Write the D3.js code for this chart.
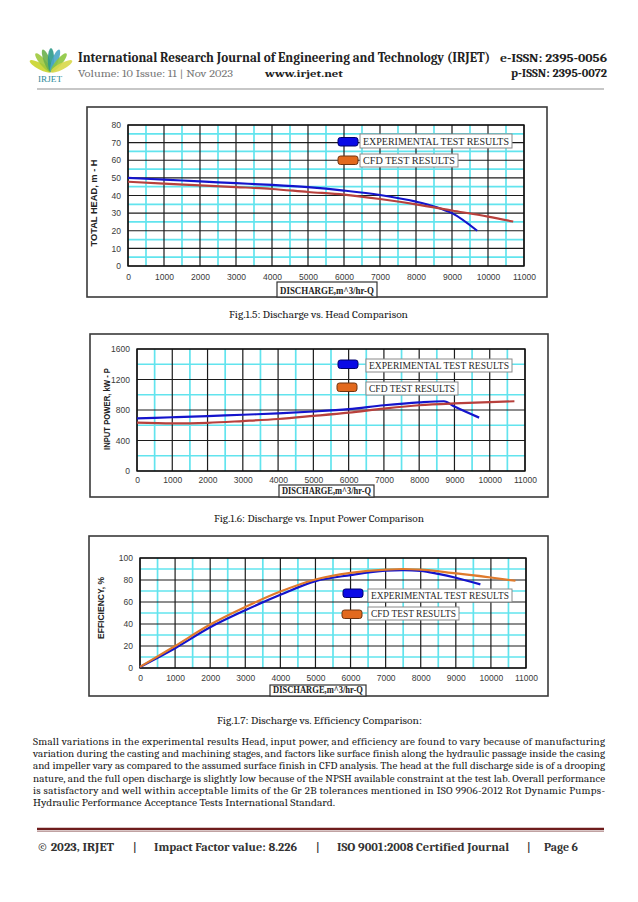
<!DOCTYPE html>
<html>
<head>
<meta charset="utf-8">
<script src="https://cdn.jsdelivr.net/npm/d3@7"></script>
<style>
  body { margin: 0; background: #fff; }
</style>
</head>
<body>
<div id="page"></div>
<script>
// discharge values (m^3/hr)
const headExpQ = [0, 1000, 2000, 3000, 4000, 5000, 6000, 7000, 8000, 8500, 9000, 9700];
const headExp = [50, 49, 48, 47, 46, 44.7, 42.8, 40.3, 36.5, 33.8, 30, 20];
const headCfdQ = [0, 1000, 2000, 3000, 4000, 5000, 6000, 7000, 8000, 9000, 10000, 10700];
const headCfd = [47.8, 46.7, 45.8, 44.8, 43.7, 42, 40.5, 38, 35, 31.5, 28, 25.2];

const powerExpQ = [0, 1000, 2000, 3000, 4000, 5000, 6000, 7000, 8000, 8700, 9000, 9700];
const powerExp = [690, 705, 720, 738, 755, 780, 812, 862, 900, 915, 845, 700];
const powerCfdQ = [0, 1000, 2000, 3000, 4000, 5000, 6000, 7000, 8000, 9000, 10000, 10700];
const powerCfd = [635, 625, 632, 655, 682, 722, 765, 818, 862, 886, 902, 915];

const effExpQ = [0, 1000, 2000, 3000, 4000, 5000, 6000, 7000, 7500, 8000, 8500, 9000, 9700];
const effExp = [1, 18, 37, 52.5, 66.5, 79, 84.5, 88.5, 89, 88.3, 85.5, 82, 76];
const effCfdQ = [0, 1000, 2000, 3000, 4000, 5000, 6000, 7000, 7500, 8000, 9000, 10000, 10700];
const effCfd = [1, 20, 39.5, 55.5, 69.5, 80.5, 86.5, 89.5, 90, 89.5, 86, 82.3, 79.3];

const xTicks = [0, 1000, 2000, 3000, 4000, 5000, 6000, 7000, 8000, 9000, 10000, 11000];
const xMinor = [500, 1500, 2500, 3500, 4500, 5500, 6500, 7500, 8500, 9500, 10500];
const headTicks = [0, 10, 20, 30, 40, 50, 60, 70, 80];
const headMinor = [5, 15, 25, 35, 45, 55, 65, 75];
const powerTicks = [0, 400, 800, 1200, 1600];
const powerMinor = [200, 600, 1000, 1400];
const effTicks = [0, 20, 40, 60, 80, 100];
const effMinor = [10, 30, 50, 70, 90];

const legendLabels = ["EXPERIMENTAL TEST RESULTS", "CFD TEST RESULTS"];

const paragraph = [
  "Small variations in the experimental results Head, input power, and efficiency are found to vary because of manufacturing",
  "variation during the casting and machining stages, and factors like surface finish along the hydraulic passage inside the casing",
  "and impeller vary as compared to the assumed surface finish in CFD analysis. The head at the full discharge side is of a drooping",
  "nature, and the full open discharge is slightly low because of the NPSH available constraint at the test lab. Overall performance",
  "is satisfactory and well within acceptable limits of the Gr 2B tolerances mentioned in ISO 9906-2012 Rot Dynamic Pumps-",
  "Hydraulic Performance Acceptance Tests International Standard."
];

const serif = "Cambria, 'DejaVu Serif Condensed', 'DejaVu Serif', serif";
const times = "'Liberation Serif', 'Times New Roman', serif";
const sans = "'Liberation Sans', Arial, sans-serif";

const svg = d3.select("#page").append("svg")
  .attr("width", 638).attr("height", 902)
  .style("display", "block");

// ---------- header ----------
const logo = svg.append("g").attr("transform", "translate(51,72)");
const leafCols = ["#c9d42a", "#9fc93c", "#6ab04c", "#2d9a8a", "#4aa6c8", "#8cc63f", "#d8d84a"];
[-62, -40, -20, 0, 20, 40, 62].forEach(function(a, i) {
  logo.append("ellipse")
    .attr("cx", 0).attr("cy", -12).attr("rx", 3.2).attr("ry", 12)
    .attr("fill", leafCols[i])
    .attr("opacity", 0.9)
    .attr("transform", "rotate(" + a + ") ");
});
svg.append("text").attr("x", 38).attr("y", 82).text("IRJET")
  .attr("font-family", times).attr("font-size", 8).attr("fill", "#2a8a9a")
  .attr("textLength", 24).attr("lengthAdjust", "spacingAndGlyphs");

function txt(s, x, y, size, opts) {
  opts = opts || {};
  const t = svg.append("text").attr("x", x).attr("y", y).text(s)
    .attr("font-family", opts.family || serif)
    .attr("font-size", size)
    .attr("font-weight", opts.weight || "normal")
    .attr("fill", opts.fill || "#1a1a1a");
  if (opts.len) t.attr("textLength", opts.len).attr("lengthAdjust", opts.adjust || "spacingAndGlyphs");
  if (opts.anchor) t.attr("text-anchor", opts.anchor);
  return t;
}

txt("International Research Journal of Engineering and Technology (IRJET)", 78, 62, 13, {weight: "bold", len: 412, fill: "#222"});
txt("e-ISSN: 2395-0056", 500, 62, 11, {weight: "bold", len: 107, fill: "#222"});
txt("Volume: 10 Issue: 11 | Nov 2023", 78, 77, 10.5, {len: 155, fill: "#777"});
txt("www.irjet.net", 265, 77, 10.5, {weight: "bold", len: 78, fill: "#222"});
txt("p-ISSN: 2395-0072", 511, 77, 11, {weight: "bold", len: 96, fill: "#222"});
svg.append("line").attr("x1", 37).attr("x2", 604).attr("y1", 89).attr("y2", 89)
  .attr("stroke", "#b5b5b5").attr("stroke-width", 1.5);

// ---------- charts ----------
function drawChart(c) {
  const g = svg.append("g");
  const x = d3.scaleLinear().domain([0, 11000]).range([c.x0, c.x1]);
  const y = d3.scaleLinear().domain([0, c.ymax]).range([c.y1, c.y0]);

  g.append("rect")
    .attr("x", c.frame[0]).attr("y", c.frame[1])
    .attr("width", c.frame[2] - c.frame[0]).attr("height", c.frame[3] - c.frame[1])
    .attr("fill", "#fff").attr("stroke", "#3a3a3a").attr("stroke-width", 1.6);

  // minor (cyan) grid
  g.selectAll(null).data(xMinor).join("line")
    .attr("x1", d => x(d)).attr("x2", d => x(d)).attr("y1", c.y0).attr("y2", c.y1)
    .attr("stroke", "#62e4ee").attr("stroke-width", 1.7);
  g.selectAll(null).data(c.yMinor).join("line")
    .attr("x1", c.x0).attr("x2", c.x1).attr("y1", d => y(d)).attr("y2", d => y(d))
    .attr("stroke", "#62e4ee").attr("stroke-width", 1.7);
  // major (black) grid
  g.selectAll(null).data(xTicks).join("line")
    .attr("x1", d => x(d)).attr("x2", d => x(d)).attr("y1", c.y0).attr("y2", c.y1)
    .attr("stroke", "#1c1c1c").attr("stroke-width", 1.2);
  g.selectAll(null).data(c.yTicks).join("line")
    .attr("x1", c.x0).attr("x2", c.x1).attr("y1", d => y(d)).attr("y2", d => y(d))
    .attr("stroke", "#1c1c1c").attr("stroke-width", 1.2);
  g.append("rect").attr("x", c.x0).attr("y", c.y0)
    .attr("width", c.x1 - c.x0).attr("height", c.y1 - c.y0)
    .attr("fill", "none").attr("stroke", "#111").attr("stroke-width", 1.4);

  // x title box (labels sit above it)
  const b = c.xBox;
  g.append("rect").attr("x", b[0]).attr("y", b[1]).attr("width", b[2] - b[0]).attr("height", b[3] - b[1])
    .attr("fill", "#fff").attr("stroke", "#333").attr("stroke-width", 1.2);
  g.append("text").attr("x", b[0] + 3).attr("y", b[3] - 3.5)
    .attr("font-family", times).attr("font-size", 10.5).attr("font-weight", "bold").attr("fill", "#222")
    .attr("textLength", b[2] - b[0] - 6).attr("lengthAdjust", "spacingAndGlyphs")
    .text("DISCHARGE,m^3/hr-Q");

  const xa = g.append("g").attr("transform", "translate(0," + c.y1 + ")")
    .call(d3.axisBottom(x).tickValues(xTicks).tickSize(0).tickPadding(c.xPad).tickFormat(d3.format("d")));
  const ya = g.append("g").attr("transform", "translate(" + c.x0 + ",0)")
    .call(d3.axisLeft(y).tickValues(c.yTicks).tickSize(0).tickPadding(c.yPad).tickFormat(d3.format("d")));
  [xa, ya].forEach(function(a) {
    a.select(".domain").remove();
    a.selectAll("text").attr("font-family", sans).attr("font-size", 8.5).attr("fill", "#3a3a3a");
  });

  g.append("text")
    .attr("transform", "translate(" + c.titleX + "," + c.titleY + ") rotate(-90)")
    .attr("text-anchor", "middle")
    .attr("font-family", sans).attr("font-size", 8.5).attr("font-weight", "bold")
    .attr("fill", "#222")
    .attr("textLength", c.titleLen).attr("lengthAdjust", "spacingAndGlyphs")
    .text(c.yTitle);

  const line = d3.line().x(d => x(d[0])).y(d => y(d[1])).curve(d3.curveMonotoneX);
  g.append("path").datum(d3.zip(c.expQ, c.exp)).attr("d", line)
    .attr("fill", "none").attr("stroke", "#1414cc").attr("stroke-width", 2.2);
  g.append("path").datum(d3.zip(c.cfdQ, c.cfd)).attr("d", line)
    .attr("fill", "none").attr("stroke", c.cfdColor).attr("stroke-width", 2.2);

  // legend
  const sw = [["#0a0ae6", "#00006a"], ["#e2691e", "#6e3410"]];
  c.legend.forEach(function(L, i) {
    g.append("rect").attr("x", L.box[0]).attr("y", L.box[1])
      .attr("width", L.box[2] - L.box[0]).attr("height", L.box[3] - L.box[1])
      .attr("fill", "#fff").attr("stroke", "#8a8a8a").attr("stroke-width", 1);
    g.append("rect").attr("x", L.sw[0]).attr("y", L.sw[1])
      .attr("width", 20).attr("height", 8.5).attr("rx", 2.5)
      .attr("fill", sw[i][0]).attr("stroke", sw[i][1]).attr("stroke-width", 1);
    g.append("text").attr("x", L.box[0] + 3).attr("y", L.box[3] - 3)
      .attr("font-family", times).attr("font-size", 10).attr("fill", "#2a2a2a")
      .attr("textLength", L.box[2] - L.box[0] - 6).attr("lengthAdjust", "spacingAndGlyphs")
      .text(legendLabels[i]);
  });
}

drawChart({
  frame: [87, 107, 547, 297], x0: 128, x1: 524, y0: 125, y1: 266, ymax: 80,
  yTicks: headTicks, yMinor: headMinor, xPad: 8, yPad: 7,
  yTitle: "TOTAL HEAD, m - H", titleX: 97, titleY: 203, titleLen: 87,
  expQ: headExpQ, exp: headExp, cfdQ: headCfdQ, cfd: headCfd, cfdColor: "#b8403c",
  legend: [{sw: [338, 137.5], box: [360, 134, 512, 148]}, {sw: [338, 156], box: [360, 154, 458, 167]}],
  xBox: [277, 282, 377, 297]
});
drawChart({
  frame: [90, 334, 548, 497], x0: 137, x1: 525, y0: 349, y1: 471, ymax: 1600,
  yTicks: powerTicks, yMinor: powerMinor, xPad: 5.5, yPad: 7,
  yTitle: "INPUT POWER, kW - P", titleX: 110, titleY: 409, titleLen: 82,
  expQ: powerExpQ, exp: powerExp, cfdQ: powerCfdQ, cfd: powerCfd, cfdColor: "#b8403c",
  legend: [{sw: [338, 360], box: [366, 359, 512, 372]}, {sw: [337, 383], box: [366, 382, 458, 395]}],
  xBox: [279, 485, 374, 497]
});
drawChart({
  frame: [89, 536, 548, 696], x0: 140, x1: 526, y0: 558, y1: 668, ymax: 100,
  yTicks: effTicks, yMinor: effMinor, xPad: 6.5, yPad: 7,
  yTitle: "EFFICIENCY, %", titleX: 104, titleY: 608, titleLen: 62,
  expQ: effExpQ, exp: effExp, cfdQ: effCfdQ, cfd: effCfd, cfdColor: "#e07a2c",
  legend: [{sw: [343, 589], box: [368, 589, 512, 602]}, {sw: [342, 610], box: [368, 607, 459, 620]}],
  xBox: [270, 685, 366, 696]
});

// ---------- captions & text ----------
txt("Fig.1.5: Discharge vs. Head Comparison", 229, 318, 10.5, {len: 179});
txt("Fig.1.6: Discharge vs. Input Power Comparison", 214, 522, 10.5, {len: 210});
txt("Fig.1.7: Discharge vs. Efficiency Comparison:", 217, 724, 10.5, {len: 205});

paragraph.forEach(function(s, i) {
  const last = i === paragraph.length - 1;
  txt(s, 33, 745 + i * 12.2, 11, {len: last ? 302 : 572, adjust: last ? "spacingAndGlyphs" : "spacing", fill: "#1a1a1a"});
});

// ---------- footer ----------
svg.append("line").attr("x1", 37).attr("x2", 604).attr("y1", 829).attr("y2", 829)
  .attr("stroke", "#6e1c1c").attr("stroke-width", 2.6);
svg.append("line").attr("x1", 37).attr("x2", 604).attr("y1", 831.5).attr("y2", 831.5)
  .attr("stroke", "#b08a8a").attr("stroke-width", 0.8);
txt("\u00a9 2023, IRJET", 37, 851, 11, {weight: "bold", len: 77, fill: "#333"});
txt("|", 133, 851, 11, {weight: "bold", fill: "#333"});
txt("Impact Factor value: 8.226", 154, 851, 11, {weight: "bold", len: 143, fill: "#333"});
txt("|", 316, 851, 11, {weight: "bold", fill: "#333"});
txt("ISO 9001:2008 Certified Journal", 337, 851, 11, {weight: "bold", len: 172, fill: "#333"});
txt("|", 527, 851, 11, {weight: "bold", fill: "#333"});
txt("Page 6", 544, 851, 11, {weight: "bold", len: 34, fill: "#333"});
</script>
</body>
</html>
